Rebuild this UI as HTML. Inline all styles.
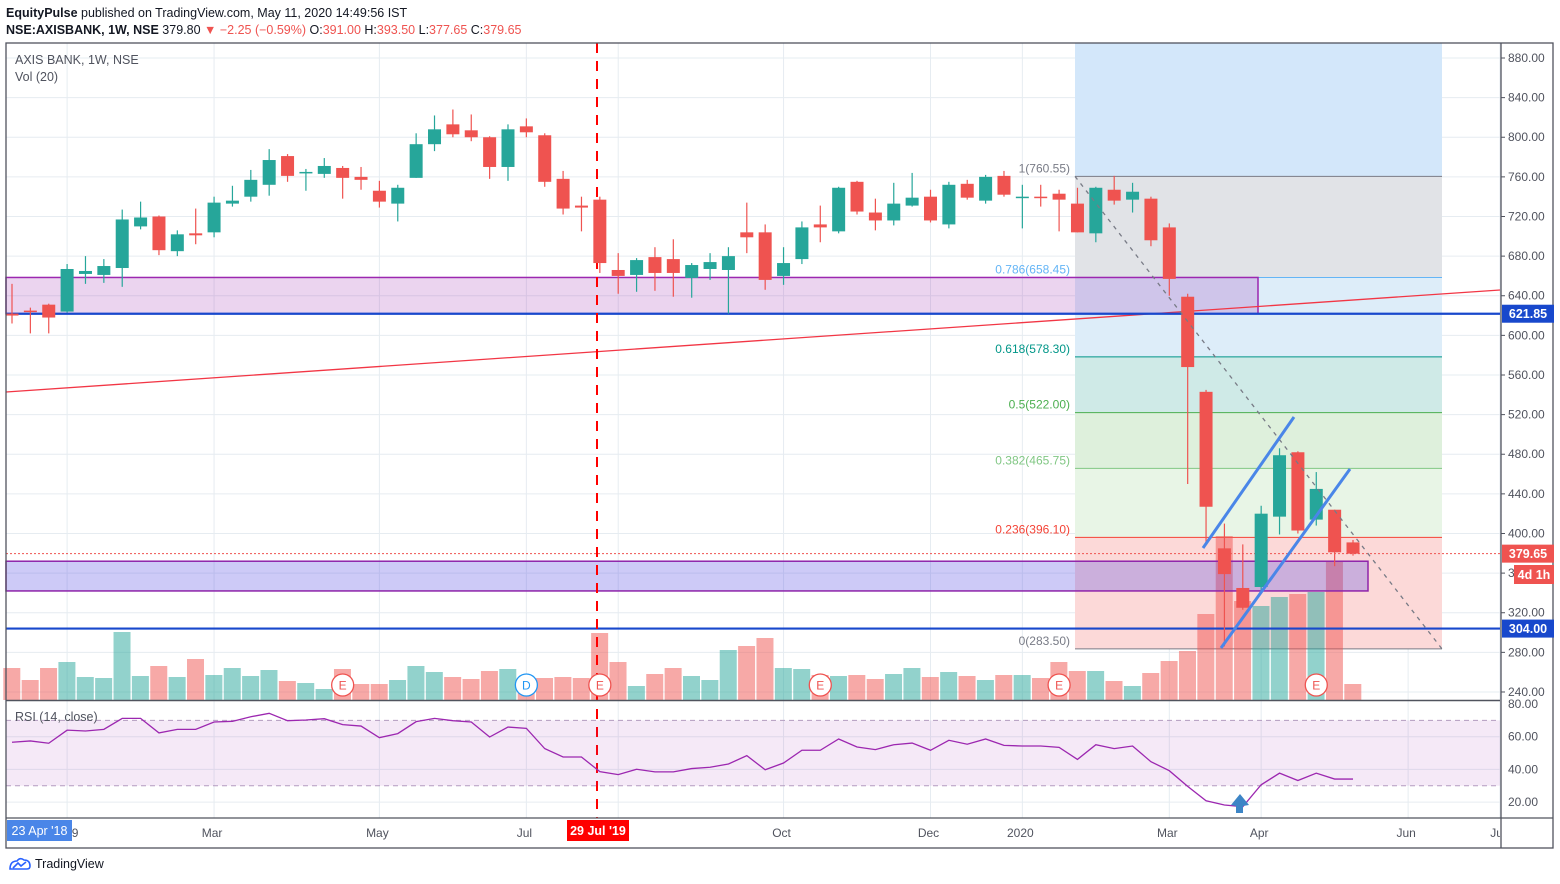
<!DOCTYPE html>
<html><head><meta charset="utf-8"><style>
html,body{margin:0;padding:0;background:#fff;width:1560px;height:884px;overflow:hidden;font-family:"Liberation Sans",sans-serif;}
svg text{font-family:"Liberation Sans",sans-serif;}
</style></head><body>
<svg id="chart" width="1560" height="884" xmlns="http://www.w3.org/2000/svg">
<defs><clipPath id="tclip"><rect x="0" y="818" width="1500" height="30"/></clipPath></defs>
<text x="6" y="17" font-size="12.5" fill="#131722"><tspan font-weight="bold">EquityPulse</tspan> published on TradingView.com, May 11, 2020 14:49:56 IST</text>
<text x="6" y="34" font-size="12.5" fill="#131722"><tspan font-weight="bold">NSE:AXISBANK, 1W, NSE</tspan> 379.80 <tspan fill="#ef5350">▼ −2.25 (−0.59%)</tspan> O:<tspan fill="#ef5350">391.00</tspan> H:<tspan fill="#ef5350">393.50</tspan> L:<tspan fill="#ef5350">377.65</tspan> C:<tspan fill="#ef5350">379.65</tspan></text>
<g id="grid"></g>
<g id="fib"></g>
<g id="vol"></g>
<g id="draw"></g>
<g id="candles"></g>
<g id="rsi"></g>
<g id="axes"></g>
<g id="tlabels" clip-path="url(#tclip)"></g>
<g id="boxes"></g>
</svg>
<script>
const opens=[622,625,631,624,662,661,668,710,720,685,703,704,733,740,752,781,764,763,769,760,746,733,759,793,813,807,800,770,811,802,758,731,737,666,661,679,677,658,667,666,704,704,660,677,712,705,755,724,716,731,740,712,753,736,761,739,740,743,733,703,747,737,738,709,639,543,385,345,346,417,482,414,424,391];
const highs=[652,628,632,672,680,677,727,735,721,706,728,740,751,767,788,783,768,779,771,770,756,752,804,822,828,823,801,813,819,804,766,740,740,683,678,689,697,673,683,689,734,712,689,715,731,750,756,738,754,764,747,755,757,762,766,752,752,747,749,750,761,754,740,713,642,545,410,389,428,486,483,462,424,393.5];
const lows=[612,602,602,623,652,653,649,707,681,680,692,699,730,735,741,755,746,759,738,747,729,715,759,786,800,796,758,756,800,750,722,705,663,642,644,645,639,638,656,622,683,646,651,672,694,703,722,706,711,730,714,708,737,733,740,708,730,705,704,694,732,724,690,640,450,391,286,323,341,399,400,408,367,377.65];
const closes=[620,624,618,667,665,670,717,719,686,702,701,734,736,757,777,761,765,771,759,757,735,749,793,808,803,800,770,808,805,755,728,729,673,660,676,663,663,671,674,680,699,656,673,709,709,749,725,716,733,739,716,752,739,760,742,740,739,737,704,749,736,745,696,657,568,427,359,325,420,479,403,445,381,379.65];
const volumes=[32,20,32,38,23,22,68,24,34,23,41,25,32,24,30,19,17,11,31,16,16,20,34,28,23,21,29,31,15,22,23,22,67,38,14,26,32,24,20,50,54,62,32,31,25,24,25,21,26,32,23,28,24,20,25,25,22,38,29,29,19,14,27,39,49,86,164,99,94,103,106,108,139,16];
const rsiValues=[56.6,57.4,56,64,63.5,64.5,71.2,71.2,62.3,64.5,64.5,69,69.4,72.2,74.3,69.8,70.2,71,67.4,66.5,59.4,61.9,69.2,71.2,69.8,69,59.8,65.9,65.1,52.7,47.6,47.6,38.6,36.8,40.1,38.5,38.5,40.5,41.3,43.3,48.4,39.8,43.9,51.7,51.7,58.6,53.7,52.1,55.1,56.1,51.7,57.8,55.4,58.6,54.7,54.3,54.3,53.5,46.1,55.1,52.7,54.3,44.7,39.2,29.6,20.8,18.2,17.2,30.6,37.7,33.2,37.7,34.1,34.1];
const priceTicks=[880,840,800,760,720,680,640,600,560,520,480,440,400,360,320,280,240];
const rsiTicks=[80,60,40,20];
const timeLabels=["2019","Mar","May","Jul","Oct","Dec","2020","Mar","Apr","Jun","Jul"];
const timeLabelIdx=[3,11,20,28,42,50,55,63,68,76,81];
const gridIdx=[3,11,20,28,33,42,50,55,63,68,76,81];
const fibLevels=[1,0.786,0.618,0.5,0.382,0.236,0];
const fibPrices=[760.55,658.45,578.30,522.00,465.75,396.10,283.50];
const markerIdx=[18,28,32,44,57,71];
const markerText=["E","D","E","E","E","E"];

const NS="http://www.w3.org/2000/svg";
const X0=12,DX=18.37,L=6,R=1500,T=43;
const xi=i=>X0+i*DX;
const py=p=>58+(880-p)*0.9906;
const vy=v=>700-v;
const ry=v=>704+(80-v)*1.635;
function mk(parent,tag,attrs,txt){const e=document.createElementNS(NS,tag);for(const k in attrs)e.setAttribute(k,attrs[k]);if(txt!==undefined)e.textContent=txt;document.getElementById(parent).appendChild(e);return e;}

priceTicks.forEach(p=>{const e=mk('grid','line',{x1:L,x2:R,y1:py(p),y2:py(p),stroke:'#e6ecf1','stroke-width':1});

});
rsiTicks.slice(1).forEach(v=>{const e=mk('grid','line',{x1:L,x2:R,y1:ry(v),y2:ry(v),stroke:'#e6ecf1'});

});
gridIdx.forEach(i=>{const e=mk('grid','line',{x1:xi(i),x2:xi(i),y1:T,y2:818,stroke:'#e6ecf1'});

});

const FX1=1075,FX2=1442;
const fibFills=['#e1e3e7','#ddedf9','#cfeae7','#def0dc','#e8f5e6','#fcd9d8'];
const fibLineC=['#787b86','#64b5f6','#009688','#4caf50','#81c784','#f44336','#787b86'];
let e=mk('fib','rect',{x:FX1,y:T,width:FX2-FX1,height:py(fibPrices[0])-T,fill:'#d3e7fa'});


for(let k=0;k<6;k++){const f=mk('fib','rect',{x:FX1,y:py(fibPrices[k]),width:FX2-FX1,height:py(fibPrices[k+1])-py(fibPrices[k]),fill:fibFills[k]});

}
fibLevels.forEach((lv,k)=>{const y=py(fibPrices[k]);
const l=mk('fib','line',{x1:FX1,x2:FX2,y1:y,y2:y,stroke:fibLineC[k],'stroke-width':1});


const t=mk('fib','text',{x:1070,y:y-4,'font-size':12,'text-anchor':'end',fill:fibLineC[k]},lv+'('+fibPrices[k].toFixed(2)+')');

});

volumes.forEach((v,i)=>{const up=closes[i]>=opens[i];
const b=mk('vol','rect',{x:xi(i)-8.7,y:vy(v),width:17,height:v,fill:up?'rgba(38,166,154,0.5)':'rgba(239,83,80,0.5)'});

});

e=mk('draw','rect',{x:L,y:py(658.45),width:1258-L,height:py(621.85)-py(658.45),fill:'rgba(156,39,176,0.2)',stroke:'#9c27b0','stroke-width':1.5});


e=mk('draw','rect',{x:L,y:py(372),width:1368-L,height:py(342)-py(372),fill:'rgba(90,80,230,0.3)',stroke:'#8e24aa','stroke-width':1.5});


e=mk('draw','line',{x1:L,y1:392,x2:R,y2:290,stroke:'#f23645','stroke-width':1.3});


[621.85,304].forEach(p=>{const h=mk('draw','line',{x1:L,x2:R,y1:py(p),y2:py(p),stroke:'#1848cc','stroke-width':2.2});

});
e=mk('draw','line',{x1:L,x2:R,y1:py(379.65),y2:py(379.65),stroke:'#ef5350','stroke-width':1,'stroke-dasharray':'2,2'});


e=mk('draw','line',{x1:597,x2:597,y1:T,y2:818,stroke:'#ff0000','stroke-width':2,'stroke-dasharray':'10,8'});



opens.forEach((o,i)=>{const c=closes[i],up=c>=o,col=up?'#26a69a':'#ef5350',x=xi(i);
const w=mk('candles','line',{x1:x,x2:x,y1:py(highs[i]),y2:py(lows[i]),stroke:col,'stroke-width':1.2});


const top=py(Math.max(o,c)),bh=Math.max(1.5,py(Math.min(o,c))-top);
const b=mk('candles','rect',{x:x-6.5,y:top,width:13,height:bh,fill:col});

});

e=mk('candles','line',{x1:1075,y1:py(760.55),x2:1442,y2:py(283.5),stroke:'#787b86','stroke-width':1.3,'stroke-dasharray':'4,5'});


e=mk('candles','line',{x1:1203,y1:548,x2:1294,y2:417,stroke:'#4a86e8','stroke-width':3});


e=mk('candles','line',{x1:1221,y1:648,x2:1350,y2:469,stroke:'#4a86e8','stroke-width':3});


markerIdx.forEach((i,k)=>{const col=markerText[k]==='D'?'#2196f3':'#ef5350';
const c=mk('candles','circle',{cx:xi(i),cy:685,r:11,fill:'#fff',stroke:col,'stroke-width':1.3});


const t=mk('candles','text',{x:xi(i),y:689.5,'font-size':12,'text-anchor':'middle',fill:col},markerText[k]);

});

e=mk('rsi','line',{x1:L,x2:R,y1:700.5,y2:700.5,stroke:'#50535e','stroke-width':1.5});


e=mk('rsi','rect',{x:L,y:ry(70),width:R-L,height:ry(30)-ry(70),fill:'rgba(156,39,176,0.1)'});


[70,30].forEach(v=>{const b=mk('rsi','line',{x1:L,x2:R,y1:ry(v),y2:ry(v),stroke:'#b39cc0','stroke-dasharray':'5,4'});

});
e=mk('rsi','polyline',{points:rsiValues.map((v,i)=>xi(i)+','+ry(v)).join(' '),fill:'none',stroke:'#9c27b0','stroke-width':1.3});


e=mk('rsi','path',{d:'M1240 794 L1231 805 L1236 806 L1236 813 L1243 813 L1243 806 L1249 805 Z',fill:'#3d85c6'});



e=mk('axes','rect',{x:6,y:43,width:1547,height:805,fill:'none',stroke:'#50535e','stroke-width':1.3});


e=mk('axes','line',{x1:R+1,x2:R+1,y1:T,y2:848,stroke:'#50535e','stroke-width':1.3});


e=mk('axes','line',{x1:L,x2:1553,y1:818,y2:818,stroke:'#50535e','stroke-width':1.3});


priceTicks.forEach(p=>{const y=py(p);
const m=mk('axes','line',{x1:R+1,x2:R+5,y1:y,y2:y,stroke:'#50535e'});


const t=mk('axes','text',{x:1508,y:y+4,'font-size':12,fill:'#50535e'},p.toFixed(2));

});
rsiTicks.forEach(v=>{const y=ry(v);
const t=mk('axes','text',{x:1508,y:y+4,'font-size':12,fill:'#50535e'},v.toFixed(2));

});
timeLabels.forEach((s,k)=>{const t=mk('tlabels','text',{x:xi(timeLabelIdx[k])-2,y:837,'font-size':12,'text-anchor':'middle',fill:'#50535e'},s);

});
function box(x,y,w,h,bg,txt,name,fw){const g=mk('boxes','rect',{x:x,y:y,width:w,height:h,fill:bg});


const t=mk('boxes','text',{x:x+w/2,y:y+h/2+4.5,'font-size':12.5,'text-anchor':'middle',fill:'#fff','font-weight':fw||'bold'},txt);

}
box(1502,py(621.85)-9,52,18,'#1848cc','621.85','level-621-label');
box(1502,py(304)-9,52,18,'#1848cc','304.00','level-304-label');
box(1502,py(379.65)-9,52,18,'#ef5350','379.65','last-price-label');
box(1514,565,40,19,'#ef5350','4d 1h','bar-countdown-label');
box(7,820,65,21,'#4a86e8','23 Apr \'18','start-date-label','normal');
box(567,820,62,21,'#ff0000','29 Jul \'19','marker-date-label','bold');
</script>
<div style="position:absolute;left:15px;top:53px;font-size:12.5px;color:#50535e;">AXIS BANK, 1W, NSE</div>
<div style="position:absolute;left:15px;top:70px;font-size:12.5px;color:#50535e;">Vol (20)</div>
<div style="position:absolute;left:15px;top:710px;font-size:12.5px;color:#50535e;">RSI (14, close)</div>
<div style="position:absolute;left:8px;top:857px;font-size:12.5px;color:#131722;display:flex;align-items:center;">
<svg width="24" height="14" viewBox="0 0 24 14"><path d="M2 12 Q2 4 9 4 Q12 0 16 3 Q22 3 22 9 Q22 12 19 12 Z" fill="none" stroke="#2962ff" stroke-width="1.6"/><path d="M5 11 L10 6 L13 9 L18 5" fill="none" stroke="#2962ff" stroke-width="1.6"/></svg>
<span style="margin-left:3px;">TradingView</span></div>
</body></html>
